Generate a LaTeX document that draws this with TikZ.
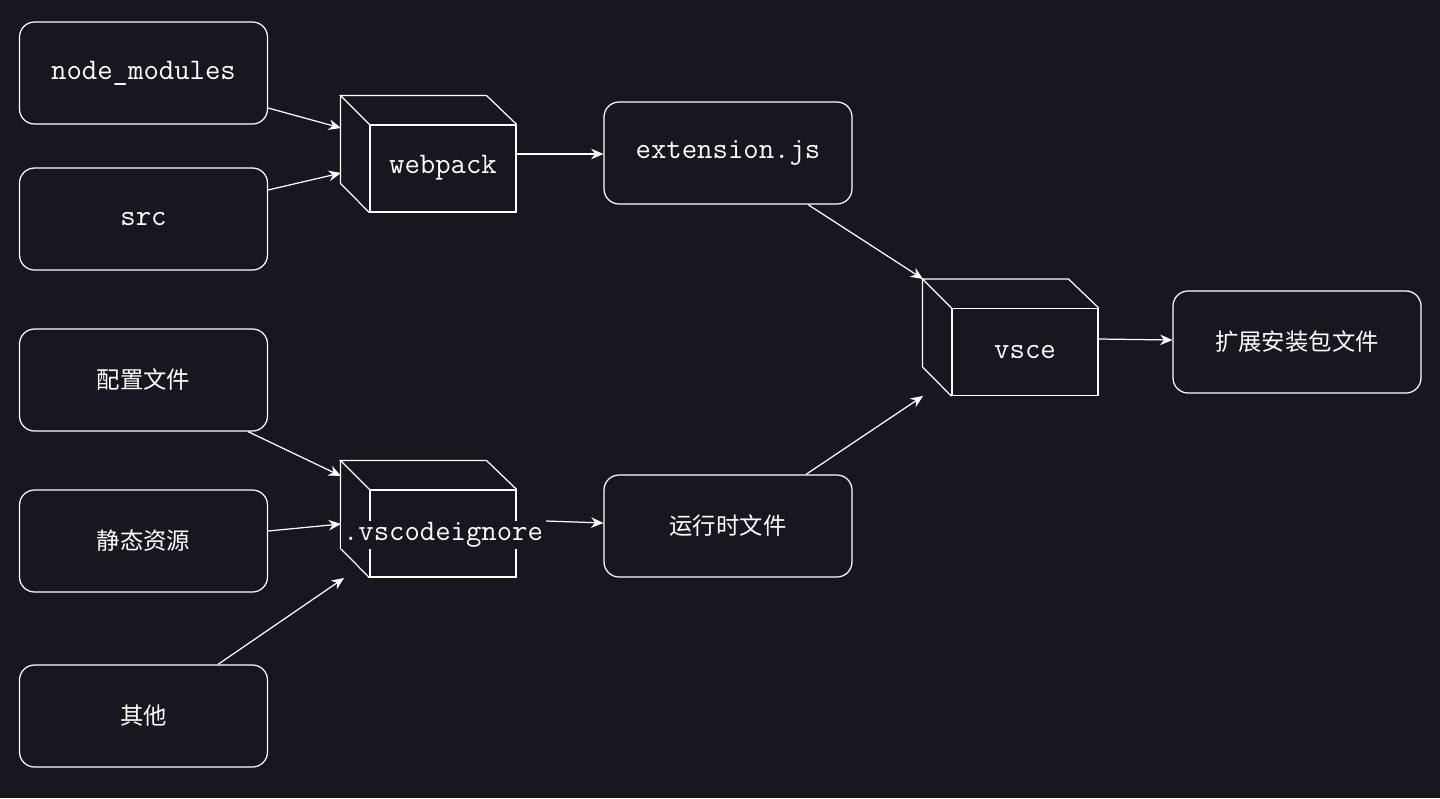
\documentclass[tikz,border=0pt]{standalone}
\usepackage{fontspec}
\newfontfamily\cjk{Noto Sans CJK SC}
\usetikzlibrary{arrows.meta}
\definecolor{bgdark}{HTML}{18161E}
\tikzset{
  filebox/.style={draw=white, line width=0.7pt, rounded corners=0.3cm,
    minimum width=4.96cm, minimum height=2.04cm, text=white},
  cubebox/.style={draw=white, line width=0.7pt, minimum width=2.92cm,
    minimum height=1.74cm, text=white},
  mono/.style={font=\ttfamily\fontsize{17}{19}\selectfont},
  han/.style={font=\cjk\fontsize{13.3}{16}\selectfont},
  link/.style={draw=white, line width=0.7pt, -{Stealth[length=7pt,width=6pt]}}
}
\begin{document}
\begin{tikzpicture}[x=0.02cm, y=-0.02cm]
  \fill[bgdark] (0,0) rectangle (1440,798);
  \useasboundingbox (0,0) rectangle (1440,798);

  % inputs
  \node[filebox, mono] (modules) at (143.5,73) {node\_modules};
  \node[filebox, mono] (src) at (143.5,219) {src};
  \node[filebox, han] (config) at (143.5,380) {配置文件};
  \node[filebox, han] (static) at (143.5,541) {静态资源};
  \node[filebox, han] (other) at (143.5,716) {其他};

  % tools
  \node[cubebox] (webpack) at (443,168.5) {};
  \node[cubebox] (ignore) at (443,533.5) {};
  \node[cubebox] (vsce) at (1025,352) {};
  \foreach \n in {webpack,ignore,vsce}{
    \draw[white, line width=0.7pt] (\n.north west) -- ++(-29,-29) -- ++(146,0) -- (\n.north east);
    \draw[white, line width=0.7pt] (\n.north west) ++(-29,-29) -- ++(0,88) -- (\n.south west);
  }
  \node[mono, text=white] at (443,168) {webpack};
  \node[mono, text=white, fill=bgdark, inner sep=1pt] at (443,535) {.vscodeignore};
  \node[mono, text=white] at (1025,352) {vsce};

  % outputs
  \node[filebox, mono] (ext) at (728,153) {extension.js};
  \node[filebox, han] (runtime) at (728,526) {运行时文件};
  \node[filebox, han] (pkg) at (1297,342) {扩展安装包文件};

  \coordinate (wpin1) at (341,128);
  \coordinate (wpin2) at (341,173);
  \coordinate (igin1) at (341,476);
  \coordinate (igin2) at (341,524);
  \coordinate (igin3) at (344,578);
  \coordinate (vsin1) at (923,279);
  \coordinate (vsin2) at (923,396);
  \draw[link] (modules.east |- 0,108) -- (wpin1);
  \draw[link] (src.east |- 0,190) -- (wpin2);
  \draw[link] (webpack.east |- 0,154) -- (ext.west |- 0,154);
  \draw[link] (ext.south -| 808,0) -- (vsin1);
  \draw[link] (vsce.east |- 0,339) -- (pkg.west |- 0,340);
  \draw[link] (runtime.north -| 806,0) -- (vsin2);
  \draw[link] (config.south -| 248,0) -- (igin1);
  \draw[link] (static.east |- 0,531) -- (igin2);
  \draw[link] (other.north -| 218,0) -- (igin3);
  \draw[link] (546,521) -- (runtime.west |- 0,523);
\end{tikzpicture}
\end{document}
